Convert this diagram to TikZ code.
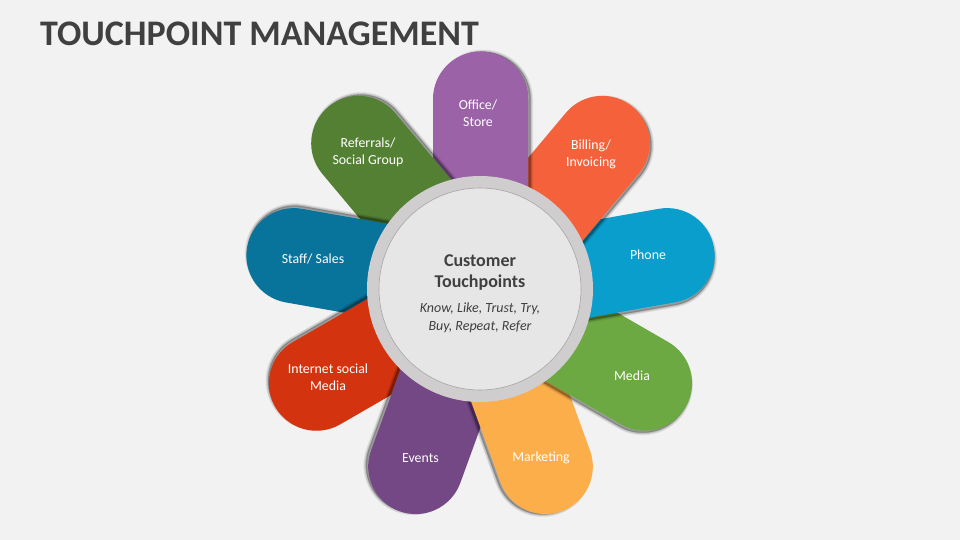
\documentclass[tikz,border=0pt]{standalone}
\usepackage{fontspec}
\setmainfont{Carlito}
\definecolor{bgc}{HTML}{F2F2F2}
\definecolor{ofc}{HTML}{9B62A7}
\definecolor{blc}{HTML}{F4613B}
\definecolor{phc}{HTML}{0A9ECC}
\definecolor{mdc}{HTML}{6DA942}
\definecolor{mkc}{HTML}{FCAE4B}
\definecolor{evc}{HTML}{744785}
\definecolor{inc}{HTML}{D3340F}
\definecolor{stc}{HTML}{08749B}
\definecolor{rfc}{HTML}{548034}
\definecolor{ringc}{HTML}{CFCDCE}
\definecolor{hubc}{HTML}{E6E6E6}
\definecolor{inkc}{HTML}{404040}
\newcommand{\petalshape}{(-47.5,0) -- (-47.5,189.5) arc[start angle=180,end angle=0,radius=47.5] -- (47.5,0) -- cycle}
\newcommand{\petalshade}[1]{%
  \begin{scope}[shift={(480.5,251.5)},rotate=#1-90]
    \foreach \w in {5,4,3,2,1,0.2}{
      \draw[black,fill=black,opacity=.05,line width=\w pt,line join=round] [shift={(2.6,-0.5)}] \petalshape;
    }
  \end{scope}}
\newcommand{\petalfill}[2]{%
  \begin{scope}[shift={(480.5,251.5)},rotate=#1-90]
    \fill[#2] \petalshape;
  \end{scope}}
\newcommand{\petal}[2]{\petalshade{#1}\petalfill{#1}{#2}}
\tikzset{
  x=1pt,y=1pt,
  petaltext/.style={text=white,align=center,font=\fontsize{13.85}{17}\selectfont},
  titletext/.style={text=inkc,anchor=base west,font=\fontsize{36}{40}\selectfont\bfseries,inner sep=0pt},
}
\begin{document}
\begin{tikzpicture}
\useasboundingbox (0,0) rectangle (960,540);
\fill[bgc] (0,0) rectangle (960,540);
\node[titletext] (title) at (40,494) {TOUCHPOINT MANAGEMENT};
% pinwheel: each petal lies over its clockwise neighbour
\begin{scope}
  \clip (300,0) rectangle (480.5,540);
  \petalshade{90}
\end{scope}
\petalfill{90}{ofc}
\petal{130}{rfc}
\petal{170}{stc}
\petal{210}{inc}
\petal{250}{evc}
\petal{-70}{mkc}
\petal{-30}{mdc}
\petal{10}{phc}
\petal{50}{blc}
\begin{scope}
  \clip (480.5,0) rectangle (600,540);
  \petalshade{90}
\end{scope}
\begin{scope}
  \clip (470,0) rectangle (600,540);
  \petalfill{90}{ofc}
\end{scope}
\fill[ringc] (480,251) circle[radius=113];
\fill[hubc,draw=black!35,line width=.6pt] (480,251) circle[radius=101];
\node[petaltext] (office) at (478,427) {Office/\\Store};
\node[petaltext] (billing) at (591,386) {Billing/\\Invoicing};
\node[petaltext] (phone) at (648,285) {Phone};
\node[petaltext] (media) at (632,164) {Media};
\node[petaltext] (marketing) at (541,82) {Marketing};
\node[petaltext] (events) at (420.5,82) {Events};
\node[petaltext] (internet) at (328,163) {Internet social\\Media};
\node[petaltext] (staff) at (313,281) {Staff/ Sales};
\node[petaltext] (referrals) at (368,388) {Referrals/\\Social Group};
\node[text=inkc,align=center,font=\fontsize{18}{21}\selectfont\bfseries] (hub) at (480,267) {Customer\\Touchpoints};
\node[text=inkc,align=center,font=\fontsize{14}{17.5}\selectfont\itshape] (sub) at (480,222) {Know, Like, Trust, Try,\\Buy, Repeat, Refer};
\end{tikzpicture}
\end{document}
